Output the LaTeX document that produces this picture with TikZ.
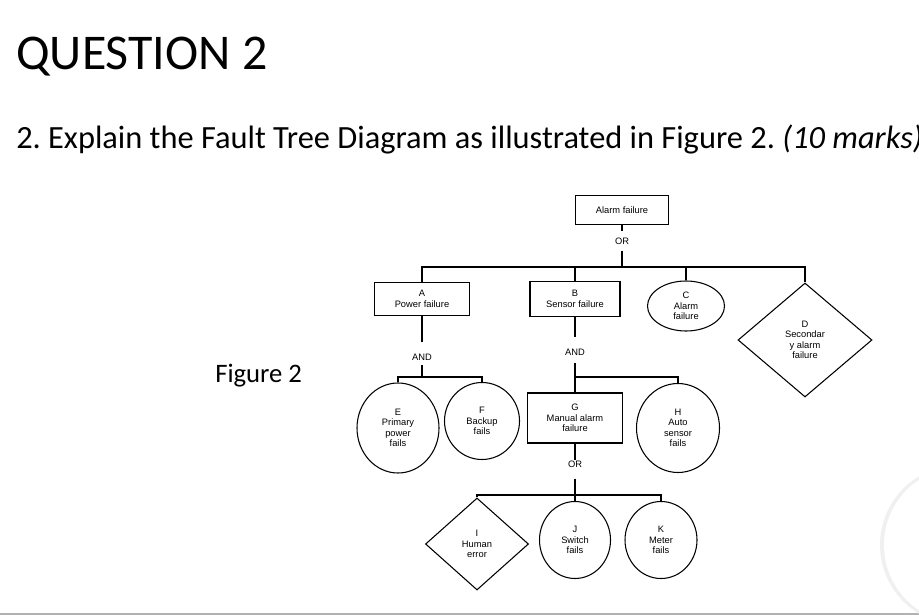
\documentclass[tikz,border=0pt]{standalone}
\usepackage{fontspec}
\setmainfont{Carlito}
\newfontfamily\arial{Liberation Sans}
\usetikzlibrary{shapes.geometric}
\frenchspacing
\begin{document}
\begin{tikzpicture}[x=0.75pt,y=-0.75pt,
  lbl/.style={font=\arial\fontsize{7}{7.8}\selectfont,align=center,inner sep=0pt},
  ev/.style={lbl,draw,thick,rectangle},
  bas/.style={lbl,draw,thick,ellipse},
  und/.style={lbl,draw,thick,diamond},
  ln/.style={thick},
  sz/.style 2 args={minimum width=0.75*#1pt,minimum height=0.75*#2pt}]
\clip (0,0) rectangle (919,616);
\fill[white] (0,0) rectangle (919,616);
\node[anchor=base west,font=\fontsize{37.5}{40}\selectfont,inner sep=0pt] (q) at (16,70) {QUESTION 2};
\node[anchor=base west,font=\fontsize{24.3}{28}\selectfont,inner sep=0pt] (ex) at (16,149) {2. Explain the Fault Tree Diagram as illustrated in Figure 2. \textit{(10 marks)}};
\node[anchor=base west,font=\fontsize{20}{24}\selectfont,inner sep=0pt] (fig) at (215,382) {Figure 2};
% top
\node[ev,sz={93}{29}] (top) at (622,210) {Alarm failure};
\node[lbl] (or1) at (622,241) {OR};
\node[ev,sz={95}{33}] (a) at (422,299) {A\\Power failure};
\node[ev,sz={90}{35}] (b) at (575,299) {B\\Sensor failure};
\node[bas,sz={77}{50}] (c) at (686,306) {C\\Alarm\\failure};
\node[und,sz={134}{114}] (d) at (805,340) {D\\Secondar\\y alarm\\failure};
\node[lbl] (and1) at (422,357) {AND};
\node[lbl] (and2) at (575,352) {AND};
\node[bas,sz={82}{90}] (e) at (398,428) {E\\Primary\\power\\fails};
\node[bas,sz={75}{77}] (f) at (482,421) {F\\Backup\\fails};
\node[ev,sz={95}{50}] (g) at (575,418) {G\\Manual alarm\\failure};
\node[bas,sz={83}{89}] (h) at (678,428) {H\\Auto\\sensor\\fails};
\node[lbl] (or2) at (575,464) {OR};
\node[und,sz={103}{92}] (i) at (477,544) {I\\Human\\error};
\node[bas,sz={71}{77}] (j) at (575,540) {J\\Switch\\fails};
\node[bas,sz={72}{77}] (k) at (661,540) {K\\Meter\\fails};
\coordinate (bar1) at (622,267);
\coordinate (bar2) at (422,377);
\coordinate (bar3) at (575,377);
\coordinate (bar4) at (575,495);
% connectors
\draw[ln] (top.south) -- ++(0,6);
\draw[ln] (or1.south) ++(0,6) -- (bar1);
\draw[ln] (a.north) |- (bar1) -| (d.north);
\draw[ln] (b.north) |- (bar1) -| (c.north);
\draw[ln] (a.south) -- ++(0,26);
\draw[ln] (and1.south) ++(0,5) -- (bar2);
\draw[ln] (e.north) |- (bar2) -| (f.north);
\draw[ln] (b.south) -- ++(0,20);
\draw[ln] (and2.south) ++(0,8) -- (bar3);
\draw[ln] (g.north) |- (bar3) -| (h.north);
\draw[ln] (g.south) -- ++(0,16);
\draw[ln] (or2.south) ++(0,11) -- (bar4);
\draw[ln] (i.north) |- (bar4) -| (k.north);
\draw[ln] (j.north) -- (bar4);
% decorations
\draw[gray!60,line width=1.5pt] (0,614) -- (919,614);
\fill[gray!12] (960,545) circle (80);
\fill[white] (962,545) circle (78);
\end{tikzpicture}
\end{document}
